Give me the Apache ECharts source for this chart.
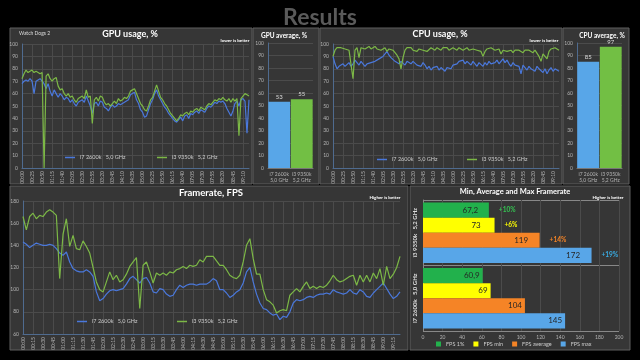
<!DOCTYPE html>
<html><head><meta charset="utf-8">
<script src="https://cdn.jsdelivr.net/npm/echarts@6/dist/echarts.min.js"></script>
<style>html,body{margin:0;padding:0;background:#000;}#c{width:640px;height:360px;}</style>
</head><body><div id="c"></div>
<script>
const timeLabels = [
'00:00','00:05','00:10','00:15','00:20','00:25','00:30','00:35','00:40','00:45','00:50','00:55',
'01:00','01:05','01:10','01:15','01:20','01:25','01:30','01:35','01:40','01:45','01:50','01:55',
'02:00','02:05','02:10','02:15','02:20','02:25','02:30','02:35','02:40','02:45','02:50','02:55',
'03:00','03:05','03:10','03:15','03:20','03:25','03:30','03:35','03:40','03:45','03:50','03:55',
'04:00','04:05','04:10','04:15','04:20','04:25','04:30','04:35','04:40','04:45','04:50','04:55',
'05:00','05:05','05:10','05:15','05:20','05:25','05:30','05:35','05:40','05:45','05:50','05:55',
'06:00','06:05','06:10','06:15','06:20','06:25','06:30','06:35','06:40','06:45','06:50','06:55',
'07:00','07:05','07:10','07:15','07:20','07:25','07:30','07:35','07:40','07:45','07:50','07:55',
'08:00','08:05','08:10','08:15','08:20','08:25','08:30','08:35','08:40','08:45','08:50','08:55',
'09:00','09:05','09:10','09:15','09:20','09:25'];

const gpuI7 = [68,70,71,70,72,70,60,70,71,72, 70,68,64,68,62,58,63,60,57,60, 58,55,57,56,53,55,52,50,53,54,
 55,53,58,54,50,44,52,53,50,54, 53,49,48,46,49,51,49,50,52,51, 52,53,54,55,59,60,61,55,52,47,
 45,41,42,47,52,55,60,63,58,55, 52,49,47,44,42,40,38,37,39,41, 38,42,43,40,44,43,45,46,44,47,
 46,45,48,50,49,51,53,52,54,53, 54,52,48,45,42,46,52,54,50,55, 56,54,28,55];
const gpuI3 = [72,76,79,77,78,79,77,78,77,76, 77,0,74,76,72,70,72,73,66,63, 64,60,58,60,57,58,55,53,56,57,
 58,56,63,57,58,36,55,57,54,58, 57,53,51,52,50,52,54,52,56,54, 55,57,56,58,62,63,64,60,56,52,
 50,47,46,50,55,57,62,67,62,57, 55,52,50,47,44,42,40,38,40,43, 42,44,45,43,46,45,47,48,46,49,
 48,47,50,52,51,53,55,54,56,55, 57,55,54,56,53,56,54,56,26,56, 58,60,59,58];
const cpuI7 = [90,84,80,82,81,84,82,83,85,82, 84,87,85,83,86,84,82,84,83,85, 84,86,85,88,87,90,92,94,91,89,
 88,86,87,84,86,85,83,86,85,84, 86,85,83,84,82,85,83,80,82,79, 81,80,82,79,81,80,78,81,82,80,
 83,82,84,86,85,87,84,86,85,83, 86,84,82,85,84,82,85,83,86,84, 83,85,87,84,86,88,85,87,84,82,
 85,83,84,82,76,83,81,79,82,80, 81,78,82,80,79,77,80,76,79,81, 78,80,79,78];
const cpuI3 = [90,95,97,96,97,98,96,97,95,96, 72,95,97,89,97,98,96,97,98,96, 97,98,96,97,95,96,97,94,96,97,
 95,96,91,88,80,89,95,97,96,97, 95,96,94,96,97,95,96,94,95,97, 96,95,97,96,95,97,96,97,95,96,
 97,96,95,97,96,95,96,97,95,94, 96,97,95,96,94,90,94,96,95,97, 96,95,94,96,92,95,96,94,95,95,
 93,95,94,95,94,93,95,94,95,94, 93,95,94,90,86,92,93,88,94,96, 95,97,96,95];
const fpsI7 = [143,141,138,140,142,141,140,140,141,140, 137,133,131,134,125,119,117,116,116,118,
 116,112,98,90,92,96,99,100,99,100, 101,105,110,112,109,106,110,111,106,98,
 97,101,100,96,94,95,100,104,102,104, 105,105,104,105,105,105,107,
 110,108,100,100,97,93,95,98,100,106, 116,120,107,96,88,83,82,79,77,78,
 73,76,75,80,88,91,90,91,93,94, 93,95,96,96,97,96,100,98,97,96,
 97,100,97,96,100,98,94,93,97,100, 103,106,101,96,92,94,98];
const fpsI3 = [166,154,166,169,164,167,166,170,172,170, 167,110,150,164,139,149,137,136,144,139,
 133,120,107,100,98,107,116,109,113,107, 109,114,121,125,129,83,122,125,116,106,
 115,113,115,113,116,115,118,119,121,119, 122,121,122,127,125,130,130,
 130,126,122,122,118,113,111,110,113,125, 140,146,128,114,114,100,91,89,86,79,
 81,82,81,95,98,101,98,103,107,101, 103,101,103,102,104,108,113,109,107,108,
 110,112,113,104,113,107,113,107,115,110, 119,104,121,110,114,120,130];

const cpuNames = ['i7 2600k\n5,0 GHz','i3 9350k\n5,2 GHz'];
const gpuAvg = [53,55];
const cpuAvg = [85,97];
const fpsGroups = ['i7 2600k   5,0 GHz','i3 9350k   5,2 GHz'];
const fps1 = [60.9,67.2];
const fpsMin = [69,73];
const fpsAvg = [104,119];
const fpsMax = [145,172];
const fpsGain = ['+10%','+6%','+14%','+19%'];
const fpsSeriesNames = ['FPS 1%','FPS min','FPS average','FPS max'];

const I7 = 'i7 2600k   5,0 GHz', I3 = 'i3 9350k   5,2 GHz';
const BLUE_L = '#4a78dc', GREEN_L = '#7cb846';
const AVG_COL = ['#58a6e8','#72bf44'];
const BAR_COL = ['#22b14c','#ffff00','#f58426','#58a6e8'];
const GAIN_COL = ['#35c452','#ffff00','#f58426','#3aaee6'];
const GRID_C = '#4b4b4b', AX_C = '#4f6b8f', LBL_C = '#b4b4b4';
const FONT = 'Lato, "Open Sans", sans-serif';

function timeAxis(g, interval) {
  return {type:'category', gridIndex:g, data:timeLabels, boundaryGap:false,
    axisLine:{lineStyle:{color:AX_C}}, axisTick:{show:false},
    axisLabel:{interval:interval, rotate:90, fontSize:5, color:LBL_C, margin:3},
    splitLine:{show:true, interval:interval, lineStyle:{color:GRID_C, width:1}}};
}
function valAxis(g, min, max, interval) {
  return {type:'value', gridIndex:g, min:min, max:max, interval:interval,
    axisLine:{show:true, lineStyle:{color:AX_C}}, axisTick:{show:false},
    axisLabel:{fontSize:5, color:LBL_C, margin:4},
    splitLine:{lineStyle:{color:GRID_C}}};
}
function catAxis(g) {
  return {type:'category', gridIndex:g, data:cpuNames,
    axisLine:{lineStyle:{color:'#777'}}, axisTick:{show:false},
    axisLabel:{interval:0, fontSize:5, color:LBL_C, margin:3, lineHeight:6}};
}
function lineS(name, data, color, xi) {
  return {type:'line', name:name, data:data, xAxisIndex:xi, yAxisIndex:xi,
    symbol:'none', lineStyle:{color:color, width:1.2}, itemStyle:{color:color}};
}
function avgS(data, xi) {
  return {type:'bar', data:data.map((v,i)=>({value:v, itemStyle:{color:AVG_COL[i]}})),
    xAxisIndex:xi, yAxisIndex:xi, barWidth:'97%',
    label:{show:true, position:'top', fontSize:6, color:'#ddd', distance:2}};
}
function legendAt(name, left, top) {
  return {data:[name], left:left, top:top, padding:0, icon:'rect', itemWidth:10, itemHeight:1.5,
    selectedMode:false, textStyle:{color:'#ccc', fontSize:5.5, fontFamily:FONT}};
}
function titleAt(text, cx, top, size, color) {
  return {text:text, left:cx, top:top, padding:0, textAlign:'center',
    textStyle:{color:color||'#fff', fontSize:size, fontWeight:'bold', fontFamily:FONT}};
}
const fmt = v => String(v).replace('.', ',');

const fpsSeries = [fps1, fpsMin, fpsAvg, fpsMax].map((d, k) => ({
  type:'bar', name:fpsSeriesNames[k], data:d, xAxisIndex:5, yAxisIndex:5,
  barGap:'0%', barCategoryGap:'8%', itemStyle:{color:BAR_COL[k]},
  label:{show:true, position:'right', distance:0, offset:[-34,0],
    formatter: p => '{v|' + fmt(p.value) + '}' + (p.dataIndex === 1 ? '{p|' + fpsGain[k] + '}' : ''),
    rich:{v:{width:31, align:'right', fontSize:8, color:'#262626', fontFamily:FONT},
          p:{fontSize:6.5, fontWeight:'bold', color:GAIN_COL[k], padding:[0,0,0,13], fontFamily:FONT}}}
}));

const panels = [[10,28,242,156],[253,28,66,156],[320,28,242,156],[563,28,66,156],[10,186,398,164],[410,186,220,164]];

const option = {
  backgroundColor:'#000',
  textStyle:{fontFamily:FONT},
  animation:false,
  graphic: panels.map(p => ({type:'rect', z:-10, shape:{x:p[0], y:p[1], width:p[2], height:p[3]},
    style:{fill:'#363636', stroke:'#5e5e5e', lineWidth:1}})),
  title:[
    titleAt('Results', 320, 6, 23, '#5a5a5a'),
    titleAt('GPU usage, %', 130, 30, 9),
    {text:'Watch Dogs 2', left:19, top:31, padding:0, textStyle:{color:'#ddd', fontSize:5, fontWeight:'normal', fontFamily:FONT}},
    titleAt('lower is better', 235, 38, 4.5),
    titleAt('GPU average, %', 284, 32, 6.5),
    titleAt('CPU usage, %', 440, 30, 9),
    titleAt('lower is better', 544, 38, 4.5),
    titleAt('CPU average, %', 602, 32, 6.5),
    titleAt('Framerate, FPS', 211, 188, 9.5),
    titleAt('Higher is better', 385, 195, 4.5),
    titleAt('Min, Average and Max Framerate', 515, 188, 7.5),
    titleAt('Higher is better', 608, 195, 4.5)
  ],
  legend:[
    legendAt(I7, 65, 154.5), legendAt(I3, 157, 154.5),
    legendAt(I7, 377, 156.5), legendAt(I3, 467, 156.5),
    legendAt(I7, 77, 318.5), legendAt(I3, 177, 318.5),
    {data:fpsSeriesNames, left:436, top:341, padding:0, icon:'rect', itemWidth:5, itemHeight:5, itemGap:9,
      selectedMode:false, textStyle:{color:'#ccc', fontSize:5.5, fontFamily:FONT}}
  ],
  grid:[
    {left:22, top:44, width:227, height:124},
    {left:268, top:43, width:45, height:125},
    {left:333, top:44, width:226, height:124},
    {left:577, top:43, width:45, height:125},
    {left:23, top:201, width:377, height:133},
    {left:423, top:200, width:196, height:131}
  ],
  xAxis:[
    timeAxis(0, 4), catAxis(1), timeAxis(2, 4), catAxis(3), timeAxis(4, 2),
    {type:'value', gridIndex:5, min:0, max:200, interval:20,
      axisLine:{show:false}, axisTick:{show:false},
      axisLabel:{fontSize:5, color:LBL_C, margin:4}, splitLine:{lineStyle:{color:GRID_C}}}
  ],
  yAxis:[
    valAxis(0, 0, 100, 10), valAxis(1, 0, 100, 10), valAxis(2, 0, 100, 10), valAxis(3, 0, 100, 10),
    valAxis(4, 60, 180, 20),
    {type:'category', gridIndex:5, data:fpsGroups,
      axisLine:{lineStyle:{color:'#888'}}, axisTick:{show:false},
      axisLabel:{rotate:90, fontSize:6, fontWeight:'bold', color:'#ddd', margin:5},
      splitLine:{show:true, lineStyle:{color:'#888'}}}
  ],
  series:[
    lineS(I7, gpuI7, BLUE_L, 0), lineS(I3, gpuI3, GREEN_L, 0),
    avgS(gpuAvg, 1),
    lineS(I7, cpuI7, BLUE_L, 2), lineS(I3, cpuI3, GREEN_L, 2),
    avgS(cpuAvg, 3),
    lineS(I7, fpsI7, BLUE_L, 4), lineS(I3, fpsI3, GREEN_L, 4)
  ].concat(fpsSeries)
};
const chart = echarts.init(document.getElementById('c'));
chart.setOption(option);
</script></body></html>
